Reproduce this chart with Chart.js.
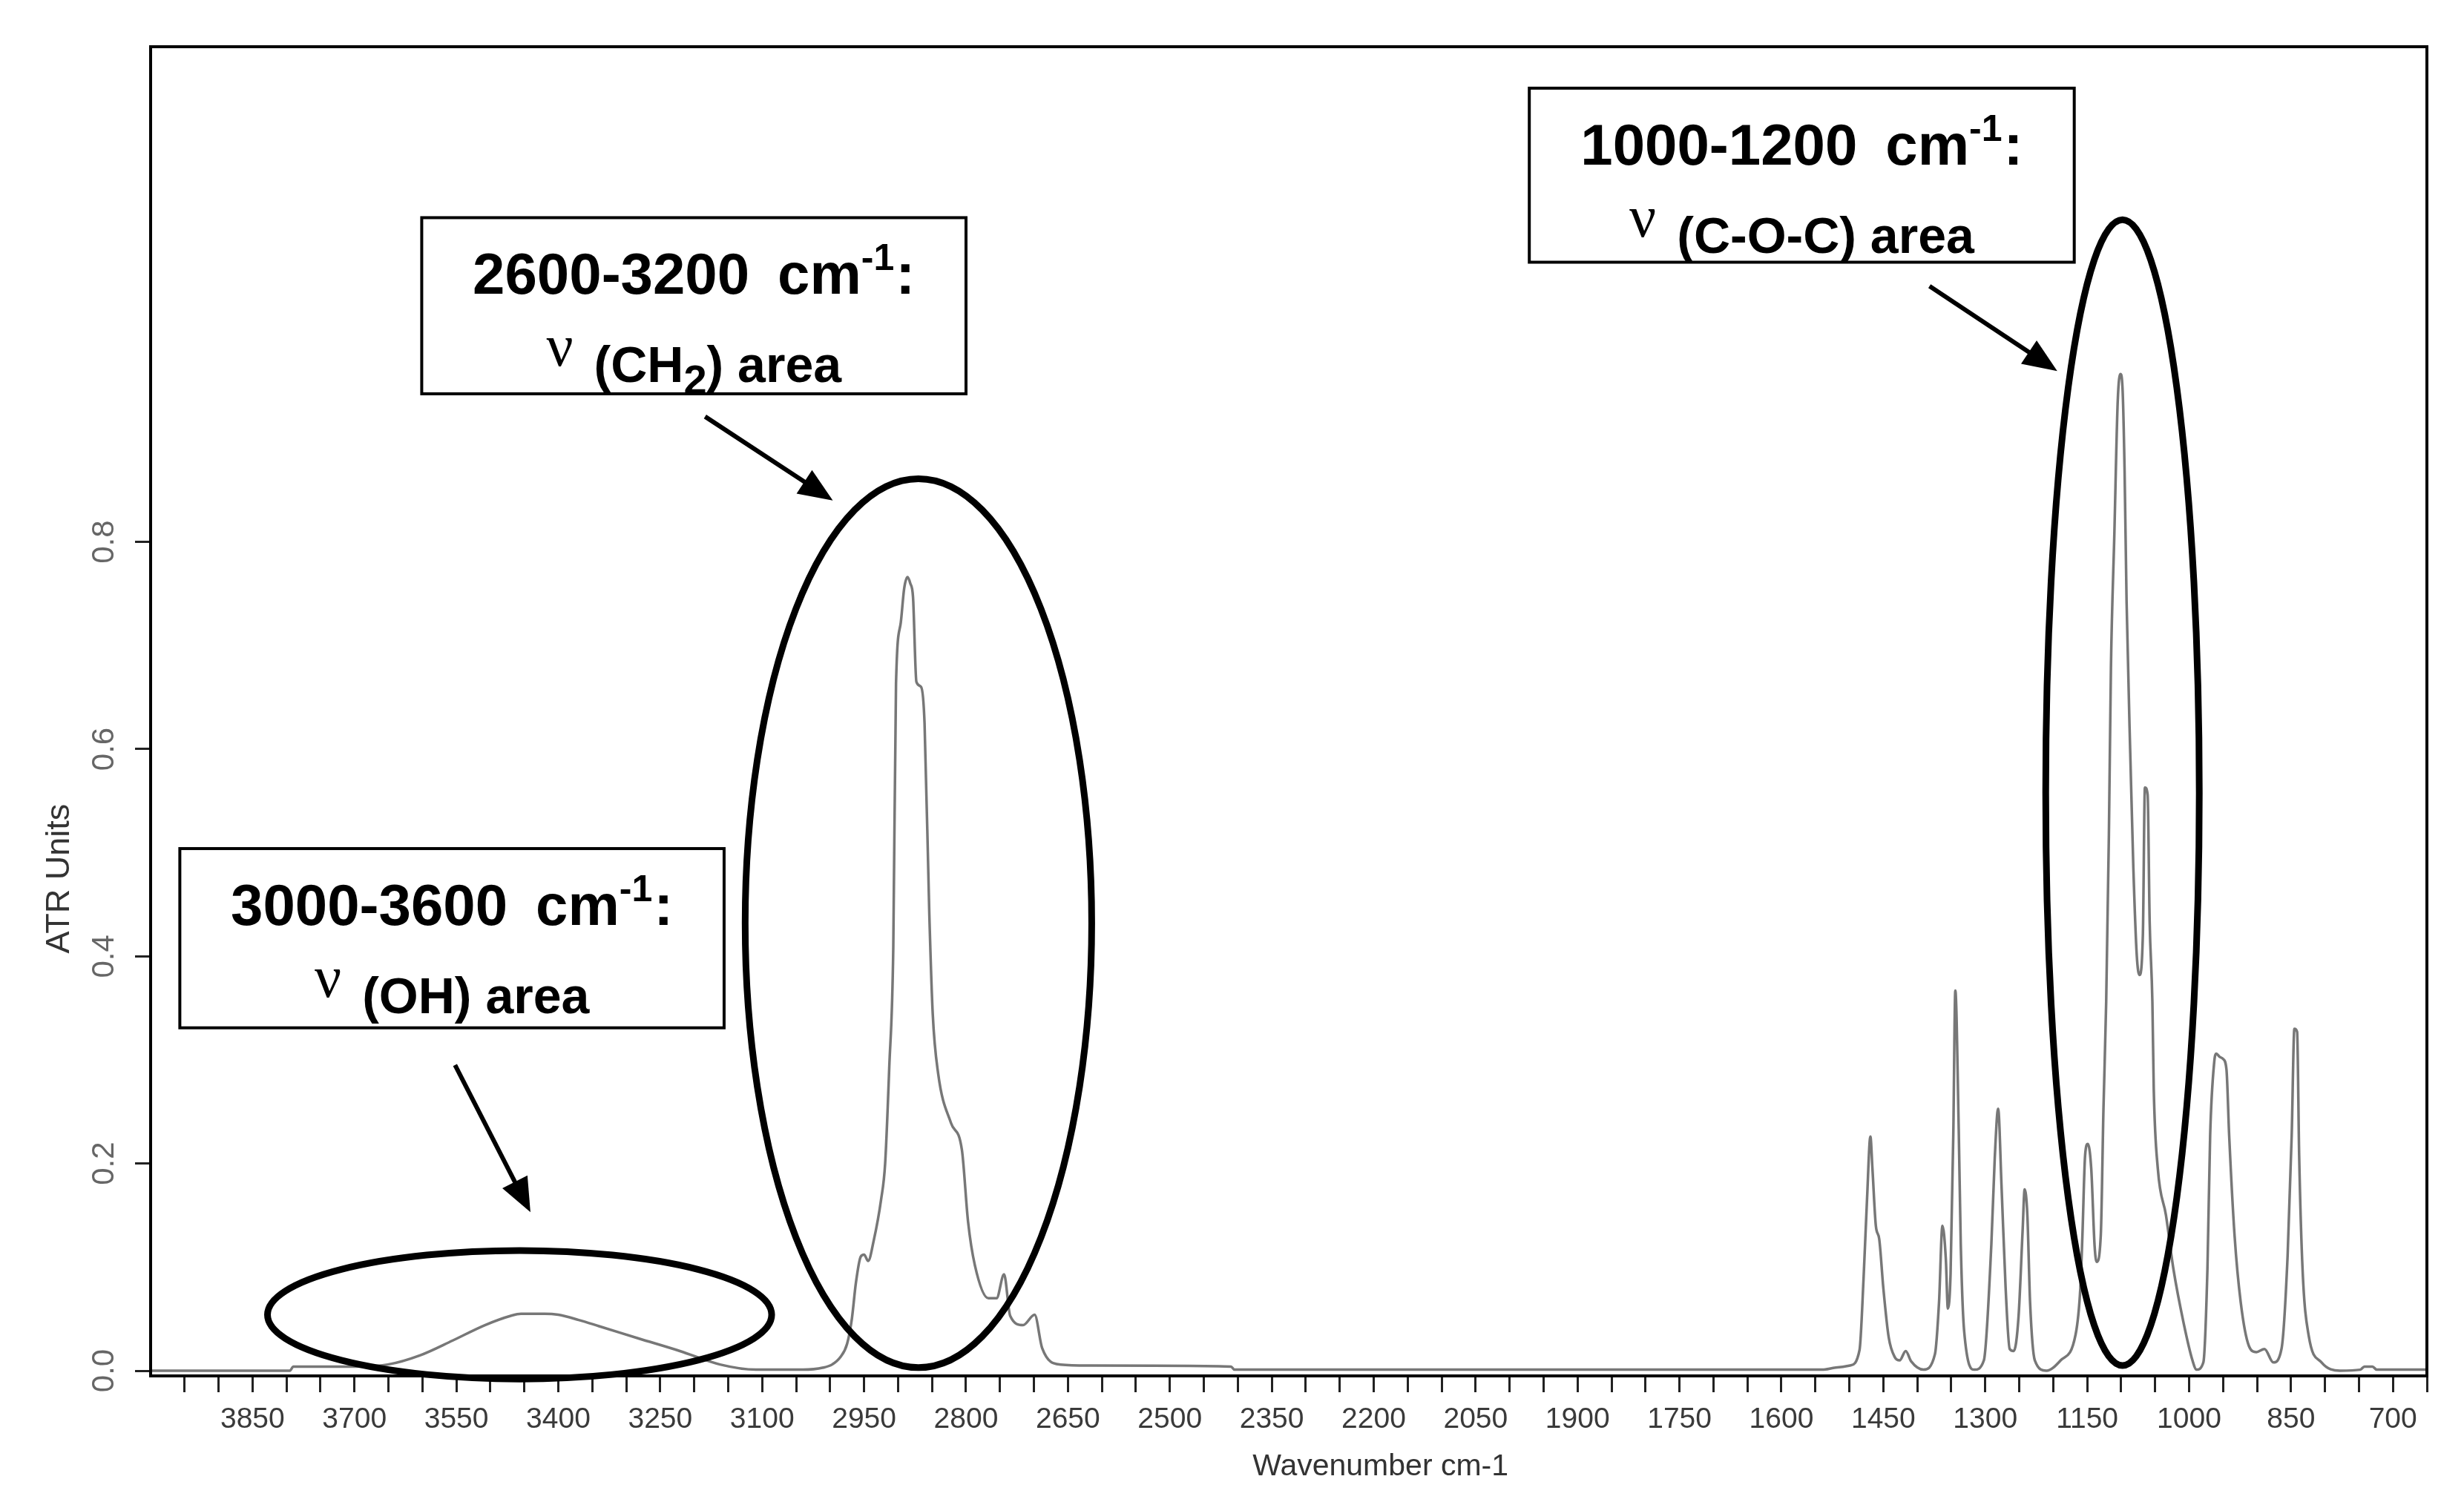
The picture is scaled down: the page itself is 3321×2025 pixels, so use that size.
<!DOCTYPE html>
<html>
<head>
<meta charset="utf-8">
<script src="https://cdn.jsdelivr.net/npm/chart.js@4.4.1/dist/chart.umd.min.js"></script>
<style>
  html, body { margin: 0; padding: 0; background: #fff; }
  #wrap { width: 3321px; height: 2025px; }
</style>
</head>
<body>
<div id="wrap"><canvas id="spectrum" width="3321" height="2025"></canvas></div>
<script>
// ATR-FTIR spectrum: wavenumber (cm-1) against ATR units
const wavenumbers = [
  4000, 3795, 3790, 3700, 3651, 3603, 3556, 3508, 3470, 3455, 3420, 3400, 3370, 3340, 3281, 3221, 3162, 3109,
  3040, 3010, 2997, 2985, 2975, 2968, 2962, 2955, 2950, 2944, 2936, 2925, 2919, 2913, 2907, 2903, 2896, 2891,
  2886, 2882, 2878, 2873, 2866, 2861, 2854, 2849, 2841, 2822, 2806, 2797, 2787, 2767, 2755, 2744, 2735, 2716,
  2699, 2688, 2661, 2620, 2410, 2405,
  1540, 1520, 1499, 1485, 1479, 1474, 1469, 1466, 1461, 1456, 1450, 1442, 1433, 1426, 1417, 1409, 1391, 1374,
  1368, 1363, 1358, 1355, 1351, 1347, 1344, 1339, 1336, 1331, 1316, 1302, 1291, 1286, 1281, 1276, 1270, 1264,
  1258, 1251, 1245, 1242, 1238, 1234, 1227, 1210, 1189, 1167, 1160, 1157, 1153, 1149, 1144, 1139, 1136, 1130,
  1126, 1122, 1118, 1115, 1110, 1105, 1101, 1098, 1095, 1092, 1086, 1082, 1077, 1073, 1068, 1065, 1061, 1058,
  1054, 1052, 1046, 1034, 1023, 1008, 995, 989, 979, 973, 969, 963, 960, 955, 950, 945, 941, 933,
  924, 912, 901, 889, 876, 864, 855, 849, 845, 841, 838, 833, 824, 805, 778, 748, 742, 730,
  724, 650
];
const atrUnits = [
  0.000, 0.000, 0.004, 0.004, 0.006, 0.015, 0.029, 0.044, 0.053, 0.055, 0.055, 0.054, 0.049, 0.043, 0.031, 0.019, 0.006, 0.001,
  0.001, 0.003, 0.006, 0.013, 0.026, 0.050, 0.085, 0.110, 0.112, 0.106, 0.125, 0.165, 0.200, 0.292, 0.409, 0.663, 0.722, 0.755,
  0.766, 0.760, 0.747, 0.665, 0.660, 0.625, 0.441, 0.345, 0.287, 0.239, 0.213, 0.144, 0.102, 0.070, 0.070, 0.093, 0.053, 0.044,
  0.054, 0.022, 0.006, 0.005, 0.004, 0.001,
  0.001, 0.003, 0.005, 0.020, 0.090, 0.165, 0.226, 0.195, 0.140, 0.127, 0.080, 0.032, 0.013, 0.010, 0.019, 0.009, 0.001, 0.016,
  0.066, 0.140, 0.108, 0.060, 0.094, 0.228, 0.367, 0.233, 0.122, 0.038, 0.001, 0.010, 0.122, 0.205, 0.253, 0.178, 0.080, 0.021,
  0.019, 0.052, 0.135, 0.175, 0.150, 0.066, 0.010, 0.000, 0.010, 0.035, 0.080, 0.130, 0.208, 0.219, 0.195, 0.120, 0.105, 0.130,
  0.253, 0.356, 0.518, 0.679, 0.807, 0.936, 0.962, 0.949, 0.872, 0.743, 0.582, 0.485, 0.401, 0.382, 0.421, 0.563, 0.556, 0.433,
  0.356, 0.272, 0.195, 0.150, 0.098, 0.046, 0.010, 0.001, 0.008, 0.098, 0.227, 0.298, 0.306, 0.303, 0.301, 0.291, 0.227, 0.130,
  0.066, 0.024, 0.018, 0.021, 0.008, 0.021, 0.111, 0.227, 0.330, 0.327, 0.208, 0.098, 0.034, 0.008, 0.000, 0.001, 0.004, 0.004,
  0.001, 0.001
];

const xTickLabels = [3850, 3700, 3550, 3400, 3250, 3100, 2950, 2800, 2650, 2500, 2350,
                     2200, 2050, 1900, 1750, 1600, 1450, 1300, 1150, 1000, 850, 700];
const yTickLabels = [0.0, 0.2, 0.4, 0.6, 0.8];

// highlighted regions, all in data units (wavenumber, ATR units)
const regions = [
  { range: '3000-3600', group: [['(OH) area']],
    box: [3957, 3156, 0.504, 0.331], ellipse: [3457, 0.054, 371, 0.062],
    arrow: [[3552, 0.295], [3441, 0.153]] },
  { range: '2600-3200', group: [['(CH'], ['2', 'sub'], [') area']],
    box: [3601, 2800, 1.113, 0.943], ellipse: [2870, 0.432, 255, 0.429],
    arrow: [[3184, 0.921], [2996, 0.840]] },
  { range: '1000-1200', group: [['(C-O-C) area']],
    box: [1971, 1169, 1.238, 1.070], ellipse: [1098, 0.558, 113, 0.553],
    arrow: [[1382, 1.047], [1194, 0.965]] }
];

const SANS = '"Liberation Sans", Arial, sans-serif';
const SERIF = '"Liberation Serif", "Times New Roman", serif';

function drawRuns(ctx, runs, cx, base) {
  let total = 0;
  runs.forEach(r => { ctx.font = r.font; r.w = ctx.measureText(r.text).width; total += r.w + (r.gap || 0); });
  let px = cx - total / 2;
  ctx.textBaseline = 'alphabetic';
  ctx.textAlign = 'left';
  runs.forEach(r => {
    px += r.gap || 0;
    ctx.font = r.font;
    ctx.fillText(r.text, px, base + (r.dy || 0));
    px += r.w;
  });
}

const annotate = {
  id: 'annotate',
  afterDraw(chart) {
    const { ctx, chartArea: a, scales: { x, y } } = chart;
    ctx.save();

    // plot frame
    ctx.strokeStyle = '#000';
    ctx.lineWidth = 4;
    ctx.strokeRect(a.left, a.top, a.right - a.left, a.bottom - a.top);

    // ellipses round the bands
    ctx.lineWidth = 9;
    regions.forEach(r => {
      const [wn, v, rw, rv] = r.ellipse;
      const cx = x.getPixelForValue(wn), cy = y.getPixelForValue(v);
      const rx = Math.abs(x.getPixelForValue(wn - rw) - cx);
      const ry = Math.abs(y.getPixelForValue(v + rv) - cy);
      ctx.beginPath();
      ctx.ellipse(cx, cy, rx, ry, 0, 0, Math.PI * 2);
      ctx.stroke();
    });

    // arrows
    regions.forEach(r => {
      const x0 = x.getPixelForValue(r.arrow[0][0]), y0 = y.getPixelForValue(r.arrow[0][1]);
      const x1 = x.getPixelForValue(r.arrow[1][0]), y1 = y.getPixelForValue(r.arrow[1][1]);
      const ang = Math.atan2(y1 - y0, x1 - x0);
      const head = 46, half = 19;
      ctx.lineWidth = 6;
      ctx.beginPath();
      ctx.moveTo(x0, y0);
      ctx.lineTo(x1 - Math.cos(ang) * head * 0.8, y1 - Math.sin(ang) * head * 0.8);
      ctx.stroke();
      ctx.fillStyle = '#000';
      ctx.beginPath();
      ctx.moveTo(x1, y1);
      ctx.lineTo(x1 - Math.cos(ang) * head - Math.sin(ang) * half, y1 - Math.sin(ang) * head + Math.cos(ang) * half);
      ctx.lineTo(x1 - Math.cos(ang) * head + Math.sin(ang) * half, y1 - Math.sin(ang) * head - Math.cos(ang) * half);
      ctx.closePath();
      ctx.fill();
    });

    // label boxes
    regions.forEach(r => {
      const [w0, w1, vTop, vBot] = r.box;
      const bx0 = x.getPixelForValue(w0), bx1 = x.getPixelForValue(w1);
      const by0 = y.getPixelForValue(vTop), by1 = y.getPixelForValue(vBot);
      ctx.fillStyle = '#fff';
      ctx.fillRect(bx0, by0, bx1 - bx0, by1 - by0);
      ctx.lineWidth = 4;
      ctx.strokeRect(bx0, by0, bx1 - bx0, by1 - by0);
      ctx.fillStyle = '#000';
      const cx = (bx0 + bx1) / 2;
      drawRuns(ctx, [
        { text: r.range, font: `bold 78px ${SANS}` },
        { text: 'cm', font: `bold 78px ${SANS}`, gap: 38 },
        { text: '-1', font: `bold 50px ${SANS}`, dy: -32 },
        { text: ':', font: `bold 78px ${SANS}`, gap: 2 }
      ], cx, by0 + 103);
      const line2 = [{ text: '\u03BD', font: `80px ${SERIF}`, dy: -22 }];
      r.group.forEach((g, i) => {
        if (g[1] === 'sub') line2.push({ text: g[0], font: `bold 56px ${SANS}`, dy: 16 });
        else line2.push({ text: g[0], font: `bold 68px ${SANS}`, gap: i === 0 ? 28 : 0 });
      });
      drawRuns(ctx, line2, cx, by0 + 222);
    });

    // axis titles
    ctx.fillStyle = '#333';
    ctx.textAlign = 'center';
    ctx.textBaseline = 'middle';
    ctx.font = `41px ${SANS}`;
    ctx.fillText('Wavenumber cm-1', x.getPixelForValue(2190), 1978);
    ctx.translate(81, y.getPixelForValue(0.475));
    ctx.rotate(-Math.PI / 2);
    ctx.font = `45px ${SANS}`;
    ctx.fillText('ATR Units', 0, 0);
    ctx.restore();
  }
};

new Chart(document.getElementById('spectrum'), {
  type: 'line',
  data: {
    datasets: [{
      data: wavenumbers.map((w, i) => ({ x: w, y: atrUnits[i] })),
      borderColor: '#777',
      borderWidth: 3.5,
      pointRadius: 0,
      cubicInterpolationMode: 'monotone',
      fill: false
    }]
  },
  options: {
    responsive: false,
    devicePixelRatio: 1,
    animation: false,
    layout: { padding: { top: 63, right: 50, left: 0, bottom: 0 } },
    plugins: { legend: { display: false }, tooltip: { enabled: false } },
    scales: {
      x: {
        type: 'linear',
        reverse: true,
        min: 650,
        max: 4000,
        afterFit: s => { s.height = 170; },
        afterBuildTicks: s => { s.ticks = s.ticks.filter(t => t.value < 3990); },
        border: { display: false },
        grid: { drawOnChartArea: false, drawTicks: true, tickLength: 22, tickWidth: 3, tickColor: '#222' },
        ticks: {
          stepSize: 50,
          autoSkip: false,
          maxRotation: 0,
          minRotation: 0,
          padding: 14,
          color: '#3a3a3a',
          font: { family: SANS, size: 39 },
          callback: v => xTickLabels.includes(Math.round(v)) ? String(Math.round(v)) : ''
        }
      },
      y: {
        min: -0.005,
        max: 1.278,
        afterFit: s => { s.width = 203; },
        afterBuildTicks: s => { s.ticks = yTickLabels.map(v => ({ value: v })); },
        border: { display: false },
        grid: { drawOnChartArea: false, drawTicks: true, tickLength: 21, tickWidth: 3, tickColor: '#222' },
        ticks: {
          minRotation: 90,
          maxRotation: 90,
          crossAlign: 'center',
          padding: 11,
          color: '#666',
          font: { family: SANS, size: 42 },
          callback: v => v.toFixed(1)
        }
      }
    }
  },
  plugins: [annotate]
});
</script>
</body>
</html>
